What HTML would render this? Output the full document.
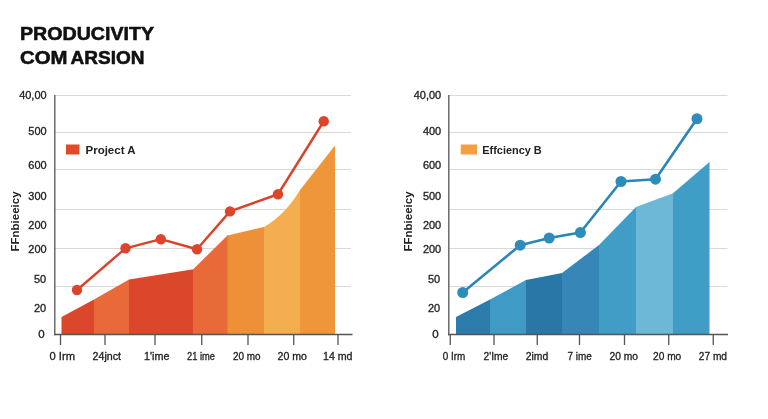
<!DOCTYPE html>
<html><head><meta charset="utf-8">
<style>
html,body{margin:0;padding:0;background:#fff;}
body{width:768px;height:419px;overflow:hidden;position:relative;font-family:"Liberation Sans",sans-serif;}
svg{position:absolute;left:0;top:0;display:block}
text{font-family:"Liberation Sans",sans-serif;fill:#222}
.t{font-weight:bold;font-size:17.5px;fill:#111;stroke:#111;stroke-width:0.55px;stroke-linejoin:round}
.y{font-size:10.3px;text-anchor:end;stroke:#222;stroke-width:0.3px}
.x{font-size:10.3px;text-anchor:start;stroke:#222;stroke-width:0.3px}
.l{font-size:11.5px;font-weight:bold}
.r{font-size:11.5px;font-weight:bold;text-anchor:middle}
.g{stroke:#d9d9d9;stroke-width:1}
.a{stroke:#555;stroke-width:1.3}
</style></head><body>
<svg width="768" height="419" viewBox="0 0 768 419">
<rect width="768" height="419" fill="#fff"/>
<text class="t" x="20" y="40" textLength="134" lengthAdjust="spacingAndGlyphs">PRODUCIVITY</text>
<text class="t" x="20" y="64"><tspan textLength="47.5" lengthAdjust="spacingAndGlyphs">COM</tspan><tspan x="70.5" textLength="74" lengthAdjust="spacingAndGlyphs">ARSION</tspan></text>

<!-- LEFT CHART -->
<g>
<line class="g" x1="55" x2="351" y1="95.5" y2="95.5"/>
<line class="g" x1="55" x2="351" y1="132.5" y2="132.5"/>
<line class="g" x1="55" x2="351" y1="169.5" y2="169.5"/>
<line class="g" x1="55" x2="351" y1="209.5" y2="209.5"/>
<line class="g" x1="55" x2="351" y1="248.5" y2="248.5"/>
<line class="g" x1="55" x2="351" y1="286.5" y2="286.5"/>
<polygon fill="#da472b" points="61.5,334 61.5,317 94,299.5 94,334"/>
<polygon fill="#e8693a" points="94,334 94,299.5 129,279.5 129,334"/>
<polygon fill="#da472b" points="129,334 129,279.5 193.5,269.3 193.5,334"/>
<polygon fill="#e86a38" points="193,334 193,269.4 228.2,234.7 228.2,334"/>
<polygon fill="#ee9038" points="227.5,334 227.5,235.5 264,227 264,334"/>
<path fill="#f4ae50" d="M264,334 L264,227 Q285,215 300,190 L300,334 Z"/>
<polygon fill="#ef953a" points="300,334 300,190 335,145.5 335,334"/>
<line class="a" x1="54.8" x2="54.8" y1="95" y2="335.3"/>
<line class="a" x1="54" x2="352.5" y1="334.5" y2="334.5"/>
<g class="a">
<line x1="60.5" x2="60.5" y1="334.5" y2="345"/>
<line x1="105" x2="105" y1="334.5" y2="345"/>
<line x1="155" x2="155" y1="334.5" y2="345"/>
<line x1="201.75" x2="201.75" y1="334.5" y2="345"/>
<line x1="248" x2="248" y1="334.5" y2="345"/>
<line x1="293.75" x2="293.75" y1="334.5" y2="345"/>
<line x1="338" x2="338" y1="334.5" y2="345"/>
</g>
<polyline fill="none" stroke="#d9432a" stroke-width="2.4" stroke-linejoin="round" points="77,290 125.5,248.3 160.8,239.2 197,249.25 230,211.4 278,194.25 323.75,121.25"/>
<g fill="#dc452b">
<circle cx="77" cy="290" r="5.2"/><circle cx="125.5" cy="248.3" r="5.2"/><circle cx="160.8" cy="239.2" r="5.2"/><circle cx="197" cy="249.25" r="5.2"/><circle cx="230" cy="211.4" r="5.2"/><circle cx="278" cy="194.25" r="5.2"/><circle cx="323.75" cy="121.25" r="5.2"/>
</g>
<rect x="66" y="144.5" width="13.5" height="10" fill="#e04a2a"/>
<text class="l" x="85.5" y="154">Project A</text>
<text class="y" transform="translate(46.6,99.40) scale(1.065,1)">40,00</text>
<text class="y" transform="translate(46.6,135.40) scale(1.065,1)">500</text>
<text class="y" transform="translate(46.6,168.65) scale(1.065,1)">600</text>
<text class="y" transform="translate(46.6,199.65) scale(1.065,1)">300</text>
<text class="y" transform="translate(46.6,229.15) scale(1.065,1)">200</text>
<text class="y" transform="translate(46.6,253.15) scale(1.065,1)">200</text>
<text class="y" transform="translate(46.1,282.8) scale(1.065,1)">50</text>
<text class="y" transform="translate(46.1,311.5) scale(1.065,1)">20</text>
<text class="y" transform="translate(44.6,338.2) scale(1.12,1)">0</text>
<text class="r" transform="translate(19.2,221.5) rotate(-90)">FFnbieeicy</text>
<text class="x" x="49.5" y="359.8" textLength="25.5" lengthAdjust="spacingAndGlyphs">0 Irm</text>
<text class="x" x="92.5" y="359.8" textLength="28.5" lengthAdjust="spacingAndGlyphs">24jnct</text>
<text class="x" x="144" y="359.8" textLength="25.5" lengthAdjust="spacingAndGlyphs">1'ime</text>
<text class="x" x="187" y="359.8" textLength="28" lengthAdjust="spacingAndGlyphs">21 ime</text>
<text class="x" x="233" y="359.8" textLength="27.5" lengthAdjust="spacingAndGlyphs">20 mo</text>
<text class="x" x="277.5" y="359.8" textLength="29.5" lengthAdjust="spacingAndGlyphs">20 mo</text>
<text class="x" x="323" y="359.8" textLength="29.5" lengthAdjust="spacingAndGlyphs">14 md</text>
</g>

<!-- RIGHT CHART -->
<g>
<line class="g" x1="449" x2="727.5" y1="95.5" y2="95.5"/>
<line class="g" x1="449" x2="727.5" y1="132.5" y2="132.5"/>
<line class="g" x1="449" x2="727.5" y1="169.5" y2="169.5"/>
<line class="g" x1="449" x2="727.5" y1="209.5" y2="209.5"/>
<line class="g" x1="449" x2="727.5" y1="248.5" y2="248.5"/>
<line class="g" x1="449" x2="727.5" y1="286.5" y2="286.5"/>
<polygon fill="#2b7cab" points="456,334 456,317 490,299.5 490,334"/>
<polygon fill="#3f9bc5" points="490,334 490,299.5 526,280 526,334"/>
<polygon fill="#2877a6" points="526,334 526,280 562,273 562,334"/>
<polygon fill="#3687b7" points="562,334 562,273 599,245 599,334"/>
<polygon fill="#409dc6" points="599,334 599,245 636,207 636,334"/>
<polygon fill="#6cb8d6" points="636,334 636,207 673,193.25 673,334"/>
<polygon fill="#409dc6" points="673,334 673,193.25 709.5,162 709.5,334"/>
<line class="a" x1="448.8" x2="448.8" y1="95" y2="335.3"/>
<line class="a" x1="448" x2="728" y1="334.5" y2="334.5"/>
<g class="a">
<line x1="450.25" x2="450.25" y1="334.5" y2="345"/>
<line x1="494" x2="494" y1="334.5" y2="345"/>
<line x1="537.25" x2="537.25" y1="334.5" y2="345"/>
<line x1="579.5" x2="579.5" y1="334.5" y2="345"/>
<line x1="624.5" x2="624.5" y1="334.5" y2="345"/>
<line x1="668.75" x2="668.75" y1="334.5" y2="345"/>
<line x1="713.25" x2="713.25" y1="334.5" y2="345"/>
</g>
<polyline fill="none" stroke="#2a86b4" stroke-width="2.6" stroke-linejoin="round" points="462.75,292.5 520.2,245.2 549.2,238 580.4,232.5 621,181.5 655.5,179.2 697,118.75"/>
<g fill="#2e8cba">
<circle cx="462.75" cy="292.5" r="5.5"/><circle cx="520.2" cy="245.2" r="5.5"/><circle cx="549.2" cy="238" r="5.5"/><circle cx="580.4" cy="232.5" r="5.5"/><circle cx="621" cy="181.5" r="5.5"/><circle cx="655.5" cy="179.2" r="5.5"/><circle cx="697" cy="118.75" r="5.5"/>
</g>
<rect x="460.75" y="144.5" width="16.25" height="10" fill="#f5a040"/>
<text class="l" x="482.25" y="154" textLength="59.5" lengthAdjust="spacingAndGlyphs">Effciency B</text>
<text class="y" transform="translate(441.2,99.40) scale(1.065,1)">40,00</text>
<text class="y" transform="translate(441.2,135.40) scale(1.065,1)">400</text>
<text class="y" transform="translate(441.2,168.65) scale(1.065,1)">600</text>
<text class="y" transform="translate(441.2,199.65) scale(1.065,1)">500</text>
<text class="y" transform="translate(441.2,229.15) scale(1.065,1)">200</text>
<text class="y" transform="translate(441.2,253.15) scale(1.065,1)">200</text>
<text class="y" transform="translate(440.1,282.8) scale(1.065,1)">50</text>
<text class="y" transform="translate(440.1,311.5) scale(1.065,1)">20</text>
<text class="y" transform="translate(438.6,338.2) scale(1.12,1)">0</text>
<text class="r" transform="translate(412.2,221.5) rotate(-90)">FFnbieeicy</text>
<text class="x" x="442.75" y="359.8" textLength="22.5" lengthAdjust="spacingAndGlyphs">0 Irm</text>
<text class="x" x="483.5" y="359.8" textLength="24.75" lengthAdjust="spacingAndGlyphs">2'Ime</text>
<text class="x" x="525.75" y="359.8" textLength="22.5" lengthAdjust="spacingAndGlyphs">2imd</text>
<text class="x" x="567.5" y="359.8" textLength="24.25" lengthAdjust="spacingAndGlyphs">7 ime</text>
<text class="x" x="609.5" y="359.8" textLength="28.5" lengthAdjust="spacingAndGlyphs">20 mo</text>
<text class="x" x="653" y="359.8" textLength="28.25" lengthAdjust="spacingAndGlyphs">20 mo</text>
<text class="x" x="698.75" y="359.8" textLength="28.25" lengthAdjust="spacingAndGlyphs">27 md</text>
</g>
</svg>
</body></html>
